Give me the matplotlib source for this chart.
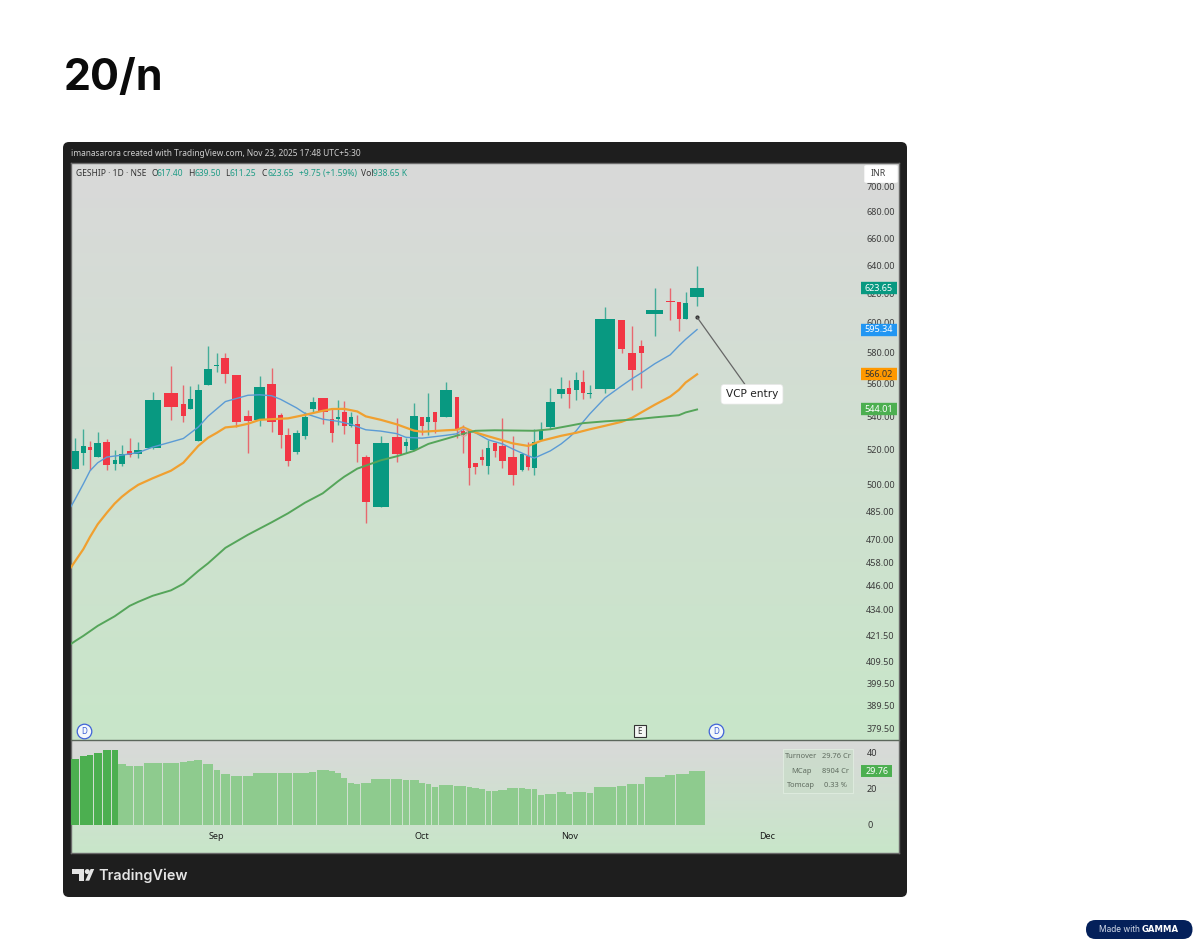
import numpy as np
import matplotlib
matplotlib.use("Agg")
import matplotlib.pyplot as plt
from matplotlib.patches import FancyBboxPatch, Polygon, Circle, Rectangle
from matplotlib.ticker import NullLocator

# daily candles, oldest first
opens = [508.7, 518.2, 521.7, 515.6, 524.7, 511.3, 511.7, 519.4, 517.5, 521.1, 554.2, 547.5, 544.4, 525.1, 559.5, 571.1, 576.7,
         565.7, 539.9, 537.5, 559.8, 540.5, 528.5, 518.3, 527.7, 544.4, 551.4, 538.3, 538.4, 542.7, 534.1, 534.9, 515.9, 487.3,
         527.1, 522.1, 519.6, 539.6, 536.5, 542.5, 539.5, 551.7, 530.9, 531.7, 511.9, 515.9, 510.6, 523.9, 522.3, 515.9, 508.3,
         516.1, 509.4, 525.7, 533.3, 553.7, 557.3, 555.8, 561.0, 553.3, 557.0, 601.9, 579.7, 584.5, 606.2, 614.9, 614.4, 602.3, 617.40]
highs = [526.9, 532.1, 525.1, 530.1, 526.1, 519.8, 522.6, 526.9, 524.5, 555.0, 571.1, 559.3, 558.7, 559.9, 584.1, 579.7, 579.7,
         565.7, 543.4, 565.1, 570.0, 542.1, 532.7, 531.7, 542.7, 551.7, 551.4, 544.2, 550.0, 549.4, 542.7, 540.7, 516.9, 528.1,
         538.7, 526.7, 548.0, 539.6, 554.2, 542.5, 561.4, 551.7, 534.7, 531.7, 511.9, 520.2, 525.7, 523.9, 538.7, 528.1, 517.5,
         524.7, 532.1, 536.3, 557.6, 564.2, 562.1, 567.3, 568.9, 559.3, 610.6, 601.9, 597.8, 588.5, 623.8, 623.8, 614.4, 620.9, 639.50]
lows = [508.5, 511.0, 507.9, 515.4, 507.9, 508.3, 510.6, 515.9, 514.8, 520.2, 537.7, 536.3, 544.4, 525.0, 559.5, 567.7, 560.8,
        533.3, 517.9, 533.7, 530.5, 520.8, 510.2, 517.5, 526.3, 541.7, 535.1, 524.7, 534.7, 529.3, 533.2, 512.7, 478.6, 487.2,
        512.5, 517.9, 519.5, 528.3, 528.7, 529.7, 539.4, 526.7, 517.9, 499.7, 506.0, 511.1, 506.0, 515.6, 509.0, 499.7, 507.3,
        507.9, 505.2, 525.6, 532.1, 550.8, 545.2, 550.0, 550.5, 551.0, 554.5, 579.7, 555.8, 557.4, 591.2, 601.9, 594.7, 602.3, 611.25]
closes = [519.4, 522.1, 519.8, 523.8, 511.1, 514.0, 517.5, 516.9, 519.8, 549.6, 545.8, 540.1, 550.6, 555.8, 569.6, 572.2, 566.4,
          536.5, 537.1, 558.1, 536.5, 528.3, 513.4, 529.6, 539.6, 548.6, 542.7, 529.7, 539.6, 534.1, 539.6, 523.3, 490.0, 524.1,
          517.3, 524.5, 540.0, 534.1, 539.5, 536.1, 555.8, 531.3, 528.8, 509.0, 509.8, 513.6, 521.0, 519.4, 513.3, 505.4, 517.5,
          510.0, 524.7, 531.7, 548.8, 556.8, 553.7, 562.1, 554.5, 554.3, 602.5, 582.3, 568.7, 579.7, 608.3, 614.2, 602.3, 613.3, 623.65]

# the chart is volume weighted, each bar has its own width
bar_width = [8.75, 7.15, 6.3, 9.1, 9.1, 6.4, 8.1, 7.4, 9.9, 19.0, 17.5, 7.3, 6.9, 8.7, 10.7, 7.1, 10.0, 12.1, 10.7, 12.8, 11.3,
             6.5, 8.5, 8.5, 8.3, 7.5, 12.2, 6.3, 5.9, 6.6, 6.4, 6.6, 10.4, 19.6, 12.0, 6.6, 9.7, 6.4, 6.2, 6.8, 15.4, 6.4, 6.3,
             5.5, 7.0, 6.3, 6.3, 6.4, 9.1, 11.5, 6.6, 6.1, 6.4, 6.9, 11.7, 9.9, 6.4, 7.5, 6.3, 7.0, 23.5, 9.6, 11.0, 7.2, 20.2,
             10.8, 6.5, 7.0, 15.9]

turnover = [36.6, 37.9, 38.7, 40.0, 41.3, 41.3, 33.5, 32.6, 32.6, 34.3, 34.3, 34.6, 35.2, 35.9, 33.5, 30.4, 28.2, 27.3, 27.3, 28.5,
            28.9, 28.5, 28.9, 28.9, 28.9, 29.5, 30.2, 30.0, 28.9, 26.0, 23.4, 22.8, 23.0, 25.2, 25.2, 24.7, 24.7, 23.4, 22.5, 21.0,
            21.9, 21.7, 21.5, 21.0, 20.4, 19.9, 18.6, 18.6, 19.2, 20.4, 20.4, 20.1, 19.7, 16.6, 16.9, 18.0, 17.3, 18.0, 18.2, 17.9,
            20.8, 21.5, 22.7, 22.7, 26.3, 27.6, 28.0, 28.4, 29.76]

# moving averages, bar number 0 is the left edge of the pane
blue_bars = [0, 1, 2, 3, 4, 5, 7, 9, 10, 11, 12, 14, 15, 17, 18, 19, 20, 21, 22, 24, 25, 27, 29, 31, 33, 34, 35, 36, 38, 41, 42, 43,
             45, 47, 49, 50, 52, 53, 55, 56, 57, 58, 59, 60, 61, 62, 63, 64, 65, 66, 67, 68, 69]
blue_ma = [487.6, 491.9, 500.2, 507.7, 512.3, 515.6, 516.7, 518.2, 521.4, 524.4, 526.5, 533.3, 539.8, 548.9, 550.8, 552.8, 553.1,
           552.5, 550.3, 545.0, 541.6, 538.1, 536.8, 535.0, 531.7, 530.9, 529.4, 527.2, 526.7, 528.4, 529.3, 532.3, 529.9, 525.7,
           523.3, 520.3, 516.3, 515.0, 519.2, 523.3, 527.2, 531.1, 536.5, 541.3, 551.2, 558.7, 563.2, 566.8, 572.8, 578.6, 584.5,
           588.8, 595.34]
orange_bars = [0, 1, 2, 3, 4, 5, 6, 7, 8, 9, 10, 11, 12, 14, 15, 16, 17, 18, 19, 20, 21, 23, 25, 27, 28, 30, 32, 33, 34, 35, 37, 38,
               41, 42, 43, 45, 47, 49, 50, 52, 54, 56, 58, 60, 61, 62, 63, 64, 65, 66, 67, 68, 69]
orange_ma = [455.3, 458.6, 464.7, 471.2, 478.0, 484.2, 489.2, 493.0, 496.4, 499.7, 503.4, 507.7, 512.3, 522.1, 526.9, 529.9, 533.1,
             533.8, 535.3, 537.7, 538.1, 538.6, 540.7, 543.2, 544.3, 544.4, 542.8, 539.8, 537.7, 535.0, 531.2, 530.5, 531.4, 531.7,
             533.2, 530.1, 527.8, 525.4, 523.6, 522.1, 525.1, 528.1, 529.9, 532.0, 534.1, 536.5, 538.9, 542.1, 546.9, 552.0, 556.2,
             560.8, 566.02]
green_bars = [0, 1, 2, 4, 6, 8, 9, 10, 11, 12, 14, 15, 17, 19, 21, 23, 25, 27, 29, 30, 32, 34, 35, 37, 39, 41, 43, 45, 48, 53, 55, 57,
              59, 61, 63, 65, 67, 68, 69]
green_ma = [417.6, 419.0, 421.4, 426.2, 430.8, 435.9, 437.9, 440.9, 443.6, 446.9, 453.4, 457.3, 465.4, 472.3, 479.0, 483.9, 489.7,
            494.9, 501.7, 504.3, 508.9, 513.7, 516.0, 519.2, 523.3, 526.3, 529.3, 531.1, 531.4, 531.1, 532.0, 534.1, 535.7, 536.8,
            537.8, 539.2, 540.5, 542.2, 544.01]

price_ticks = [700, 680, 660, 640, 620, 600, 580, 560, 540, 520, 500, 485, 470, 458, 446, 434, 421.5, 409.5, 399.5, 389.5, 379.5]
turnover_ticks = [0, 20, 40]
month_labels = ["Sep", "Oct", "Nov", "Dec"]
month_bars = [16, 38, 57]
dec_pos = 696

up_color = "#089981"
down_color = "#f23645"
W, H = 1200, 947


def pane_rect(x0, y0, x1, y1):
    return [x0 / W, 1 - y1 / H, (x1 - x0) / W, (y1 - y0) / H]


def gradient(a, x0, y0, x1, y1):
    top = np.array([217, 217, 217]) / 255
    bottom = np.array([200, 230, 201]) / 255
    t = np.linspace(0, 1, 256)[:, None, None]
    a.imshow(top + (bottom - top) * t, extent=(x0, x1, y1, y0), aspect="auto", zorder=2, interpolation="bilinear")


plt.rcParams["font.family"] = ["Noto Sans", "DejaVu Sans"]
fig = plt.figure(figsize=(12, 9.47), dpi=100, facecolor="white")

# page and the dark card, in pixels
bg = fig.add_axes([0, 0, 1, 1], zorder=0)
bg.axis("off")
bg.add_patch(FancyBboxPatch((63, 142), 844, 755, boxstyle="round,pad=0,rounding_size=6", fc="#1e1e1e", lw=0, zorder=1))
gradient(bg, 71, 163, 899, 740)
gradient(bg, 71, 741, 899, 853)
bg.set_xlim(0, W)
bg.set_ylim(H, 0)

bg.text(64, 78, "20/n", family="Inter", fontweight="bold", fontsize=31, color="#0b0b0b", va="center", ha="left")
bg.text(71, 153.5, "imanasarora created with TradingView.com, Nov 23, 2025 17:48 UTC+5:30", fontsize=6.0, color="#cfcfcf",
        fontweight="semibold", va="center", ha="left", zorder=3)

# tradingview mark and name
logo = "#e4e4e4"
bg.add_patch(Polygon([(72.3, 869), (84.3, 869), (84.3, 880.7), (79.3, 880.7), (79.3, 874), (72.3, 874)], fc=logo, zorder=3))
bg.add_patch(Circle((87.3, 871.6), 2.5, fc=logo, zorder=3))
bg.add_patch(Polygon([(90.6, 869), (94.2, 869), (89.2, 880.7), (85.3, 880.7)], fc=logo, zorder=3))
bg.text(98.5, 875.5, "TradingView", family="Inter", fontweight="semibold", fontsize=10.4, color=logo, va="center", ha="left", zorder=3)

# gamma badge
bg.add_patch(FancyBboxPatch((1086, 920), 106.5, 19, boxstyle="round,pad=0,rounding_size=9.5", fc="#04205a", lw=0, zorder=1))
bg.text(1099, 929.5, "Made with", family="Inter", fontsize=6.0, color="#d5dcea", va="center", ha="left", zorder=3)
bg.text(1142, 929.5, "GAMMA", family="DejaVu Sans", fontweight="bold", fontsize=6.1, color="white", va="center", ha="left", zorder=3)

# legend row on top of the pane
row = 173
bg.text(76, row, "GESHIP · 1D · NSE", fontsize=6.1, color="#333333", va="center", zorder=3)
for letter, lx, value, vx in [("O", 151, "617.40", 156.5), ("H", 188.5, "639.50", 194.5), ("L", 225.5, "611.25", 230), ("C", 261.5, "623.65", 267.5)]:
    bg.text(lx, row, letter, fontsize=6.1, color="#333333", va="center", zorder=3)
    bg.text(vx, row, value, fontsize=6.1, color="#1f9c86", va="center", zorder=3)
bg.text(299, row, "+9.75 (+1.59%)", fontsize=6.1, color="#1f9c86", va="center", zorder=3)
bg.text(361, row, "Vol", fontsize=6.1, color="#333333", va="center", zorder=3)
bg.text(373, row, "938.65 K", fontsize=6.1, color="#1f9c86", va="center", zorder=3)

# main price pane
edges = np.concatenate([[0], np.cumsum(bar_width)])
slot = np.array(bar_width)
centers = (edges[:-1] + edges[1:]) / 2
body = slot - np.maximum(2.2, 0.17 * slot)
o, h, l, c = map(np.array, (opens, highs, lows, closes))
colors = np.where(c >= o, up_color, down_color)
positions = np.concatenate([[0], centers])

ax = fig.add_axes(pane_rect(71, 163, 899, 740), zorder=2, facecolor="none")
ax.set_yscale("log")
ax.set_xlim(0, 828)
ax.set_ylim(374.7, 718.4)

ax.vlines(centers, l, h, colors=colors, lw=1, alpha=0.7, zorder=3)
ax.bar(centers, np.abs(c - o), body, np.minimum(o, c), color=colors, zorder=4)
ax.plot(positions[blue_bars], blue_ma, color="#5b9bd5", lw=1, zorder=5)
ax.plot(positions[orange_bars], orange_ma, color="#f0a030", lw=1.6, zorder=5)
ax.plot(positions[green_bars], green_ma, color="#55a55a", lw=1.4, zorder=5)
ax.plot(centers[42], 530.5, "o", ms=5.5, mfc="none", mec="#d9a6a0", mew=0.8, zorder=5)

ax.yaxis.tick_right()
ax.yaxis.set_minor_locator(NullLocator())
ax.set_yticks(price_ticks, labels=["%.2f" % p for p in price_ticks])
ax.tick_params(axis="y", which="both", length=0, pad=-23.6, labelsize=6.5, labelcolor="#3c3c3c")
ax.set_xticks([])
for s in ax.spines.values():
    s.set_color("#6a6a6a")
    s.set_linewidth(1)
ax.spines["bottom"].set_color("#5c665c")

# currency box
inr = fig.add_axes(pane_rect(864, 165, 898, 183), zorder=3)
inr.axis("off")
inr.add_patch(FancyBboxPatch((0.03, 0.05), 0.94, 0.9, boxstyle="round,pad=0,rounding_size=0.06", fc="white", ec="white",
                             transform=inr.transAxes, mutation_aspect=0.5))
inr.text(0.18, 0.5, "INR", fontsize=6.3, color="#444444", va="center", ha="left", transform=inr.transAxes)

# last value flags
for value, fc, tc in [(623.65, up_color, "white"), (595.34, "#2196f3", "white"), (566.02, "#ff9800", "#333333"), (544.01, "#4caf50", "white")]:
    ax.hlines(value, 790, 826, colors=fc, lw=8.9, zorder=6, capstyle="butt")
    ax.text(808, value, "%.2f" % value, fontsize=6.5, color=tc, ha="center", va="center", zorder=7)

# VCP callout
ax.plot(centers[-1], 603.7, "o", ms=2, color="#333333", zorder=6)
ax.annotate("VCP entry", xy=(centers[-1], 603.7), xytext=(681, 553.4), fontsize=7.6, family="DejaVu Sans", color="#222222",
            ha="center", va="center", zorder=7,
            bbox=dict(boxstyle="round,pad=0.45,rounding_size=0.3", fc="white", ec="#e8e8e8", lw=0.5),
            arrowprops=dict(arrowstyle="-", color="#666666", lw=0.9, shrinkA=0, shrinkB=0))

# event markers along the bottom of the pane
for xpos in [13, 645]:
    ax.plot(xpos, 378.5, "o", ms=10.5, mfc="#f4f8fb", mec="#3f62d8", mew=0.9, zorder=6)
    ax.text(xpos, 378.5, "D", fontsize=5.8, fontweight="bold", color="#3f62d8", ha="center", va="center", zorder=7)
ax.plot(569, 378.5, "s", ms=9, mfc="#f4f6f4", mec="#333333", mew=0.8, zorder=6)
ax.text(569, 378.5, "E", fontsize=5.8, fontweight="bold", color="#333333", ha="center", va="center", zorder=7)

# turnover pane
ax2 = fig.add_axes(pane_rect(71, 741, 899, 853), zorder=2, facecolor="none")
ax2.set_xlim(0, 828)
ax2.set_ylim(-15.47, 46.4)
bar_colors = ["#4caf50"] * 6 + ["#8ecb8e"] * (len(turnover) - 6)
ax2.bar(centers, turnover, slot - 0.6, color=bar_colors, zorder=3)

ax2.yaxis.tick_right()
ax2.set_yticks(turnover_ticks, labels=[str(t) for t in turnover_ticks])
ax2.tick_params(axis="y", length=0, pad=-23, labelsize=6.5, labelcolor="#333333")
ax2.set_xticks(list(centers[np.array(month_bars) - 1]) + [dec_pos], labels=month_labels)
ax2.tick_params(axis="x", length=0, pad=-15, labelsize=6.5, labelcolor="#1c1c1c")
for lab in ax2.get_xticklabels():
    lab.set_fontweight("semibold")
for s in ax2.spines.values():
    s.set_color("#6a6a6a")
    s.set_linewidth(1)
ax2.spines["top"].set_visible(False)

ax2.hlines(29.76, 790, 821, colors="#4caf50", lw=8.6, zorder=6, capstyle="butt")
ax2.text(806, 29.76, "29.76", fontsize=6.5, color="white", ha="center", va="center", zorder=7)

# small info table
ax2.add_patch(Rectangle((712, 17.8), 70, 24.4, fc="#c9dcc9", ec="#e3efe3", lw=0.8, alpha=0.75, zorder=4))
for name, val, yv in [("Turnover", "29.76 Cr", 38.0), ("MCap", "8904 Cr", 29.8), ("Tomcap", "0.33 %", 22.0)]:
    ax2.text(730, yv, name, fontsize=5.4, color="#5f6b5f", ha="center", va="center", zorder=5)
    ax2.text(765, yv, val, fontsize=5.4, color="#5f6b5f", ha="center", va="center", zorder=5)

fig.savefig("out.png", dpi=100)
